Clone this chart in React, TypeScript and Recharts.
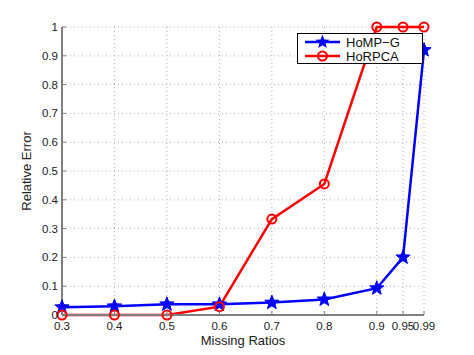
import { LineChart, Line, XAxis, YAxis, CartesianGrid } from 'recharts';

const missingRatios = [0.3, 0.4, 0.5, 0.6, 0.7, 0.8, 0.9, 0.95, 0.99];
const homp = [0.027, 0.03, 0.037, 0.037, 0.043, 0.054, 0.093, 0.2, 0.92];
const horpca = [0, 0, 0, 0.029, 0.333, 0.455, 1, 1, 1];
const xTicks = [0.3, 0.4, 0.5, 0.6, 0.7, 0.8, 0.9, 0.95, 0.99];
const yTicks = [0, 0.1, 0.2, 0.3, 0.4, 0.5, 0.6, 0.7, 0.8, 0.9, 1];

const data = missingRatios.map((r, i) => ({ ratio: r, homp: homp[i], horpca: horpca[i] }));

const FONT = 'Liberation Sans, Arial, Helvetica, sans-serif';
const AXIS_GRAY = '#7f7f7f';

function starPath(cx: number, cy: number, outer: number) {
    const inner = outer * 0.42;
    let d = '';
    for (let i = 0; i < 10; i++) {
        const r = i % 2 === 0 ? outer : inner;
        const a = -Math.PI / 2 + (i * Math.PI) / 5;
        d += (i === 0 ? 'M' : 'L') + (cx + r * Math.cos(a)).toFixed(2) + ',' + (cy + r * Math.sin(a)).toFixed(2);
    }
    return d + 'Z';
}

const StarDot = (props: any) => {
    const { cx, cy, index } = props;
    if (cx == null || cy == null) return <g key={`s-${index}`} />;
    return <path key={`s-${index}`} d={starPath(cx, cy, 7.5)} fill="#0000ff" stroke="#0000ff" strokeWidth={1} />;
};

const CircleDot = (props: any) => {
    const { cx, cy, index } = props;
    if (cx == null || cy == null) return <g key={`c-${index}`} />;
    return <circle key={`c-${index}`} cx={cx} cy={cy} r={4.5} fill="none" stroke="#ff0000" strokeWidth={2} />;
};

const XTick = (props: any) => {
    const { x, y, payload } = props;
    return (
        <g>
            <line x1={x} x2={x} y1={y} y2={y - 4} stroke={AXIS_GRAY} strokeWidth={1} />
            <text x={x} y={y + 15} textAnchor="middle" fontSize={11.5} fontFamily={FONT} fill="#222">
                {String(payload.value)}
            </text>
        </g>
    );
};

const YTick = (props: any) => {
    const { x, y, payload } = props;
    return (
        <g>
            <line x1={x} x2={x + 4} y1={y} y2={y} stroke={AXIS_GRAY} strokeWidth={1} />
            <text x={x - 4} y={y + 4} textAnchor="end" fontSize={11.5} fontFamily={FONT} fill="#222">
                {String(payload.value)}
            </text>
        </g>
    );
};

const LegendBox = () => (
    <div
        style={{
            position: 'absolute',
            left: 297,
            top: 33,
            width: 124,
            height: 29,
            border: '1px solid #000',
            background: '#fff',
        }}
    >
        <svg width={124} height={29} style={{ display: 'block' }}>
            <line x1={7} x2={42} y1={8} y2={8} stroke="#0000ff" strokeWidth={2.5} />
            <path d={starPath(24.5, 8, 7.5)} fill="#0000ff" />
            <text x={48} y={12.5} fontSize={13} fontFamily={FONT} fill="#111">HoMP−G</text>
            <line x1={7} x2={42} y1={22} y2={22} stroke="#ff0000" strokeWidth={2.5} />
            <circle cx={24.5} cy={22} r={4.5} fill="none" stroke="#ff0000" strokeWidth={2} />
            <text x={48} y={26.5} fontSize={13} fontFamily={FONT} fill="#111">HoRPCA</text>
        </svg>
    </div>
);

export default function App() {
    return (
        <div style={{ position: 'absolute', left: 0, top: 0, width: 474, height: 355, background: '#fff' }}>
            <LineChart width={474} height={355} data={data} margin={{ top: 27, right: 50, bottom: 0, left: 0 }}>
                <CartesianGrid stroke="#b0b0b0" strokeDasharray="1 3" />
                <XAxis
                    dataKey="ratio"
                    type="number"
                    domain={[0.3, 0.99]}
                    ticks={xTicks}
                    interval={0}
                    height={40}
                    tickSize={0}
                    tickMargin={0}
                    tickLine={false}
                    tick={<XTick />}
                    axisLine={{ stroke: AXIS_GRAY, strokeWidth: 2 }}
                    label={{
                        value: 'Missing Ratios',
                        position: 'insideBottom',
                        offset: 10,
                        fontSize: 13,
                        fontFamily: FONT,
                        fill: '#222',
                    }}
                />
                <YAxis
                    type="number"
                    domain={[0, 1]}
                    ticks={yTicks}
                    interval={0}
                    width={62}
                    tickSize={0}
                    tickMargin={0}
                    tickLine={false}
                    tick={<YTick />}
                    axisLine={{ stroke: AXIS_GRAY, strokeWidth: 2 }}
                    label={{
                        content: (p: any) => {
                            const vb = p.viewBox || { x: 0, y: 27, width: 62, height: 288 };
                            const cx = vb.x + 31;
                            const cy = vb.y + vb.height / 2;
                            return (
                                <text
                                    x={cx}
                                    y={cy}
                                    transform={`rotate(-90 ${cx} ${cy})`}
                                    textAnchor="middle"
                                    fontSize={13}
                                    fontFamily={FONT}
                                    fill="#222"
                                >
                                    Relative Error
                                </text>
                            );
                        },
                    }}
                />
                <Line
                    dataKey="homp"
                    stroke="#0000ff"
                    strokeWidth={2.5}
                    dot={<StarDot />}
                    activeDot={false}
                    isAnimationActive={false}
                />
                <Line
                    dataKey="horpca"
                    stroke="#ff0000"
                    strokeWidth={2.5}
                    dot={<CircleDot />}
                    activeDot={false}
                    isAnimationActive={false}
                />
            </LineChart>
            <LegendBox />
        </div>
    );
}
